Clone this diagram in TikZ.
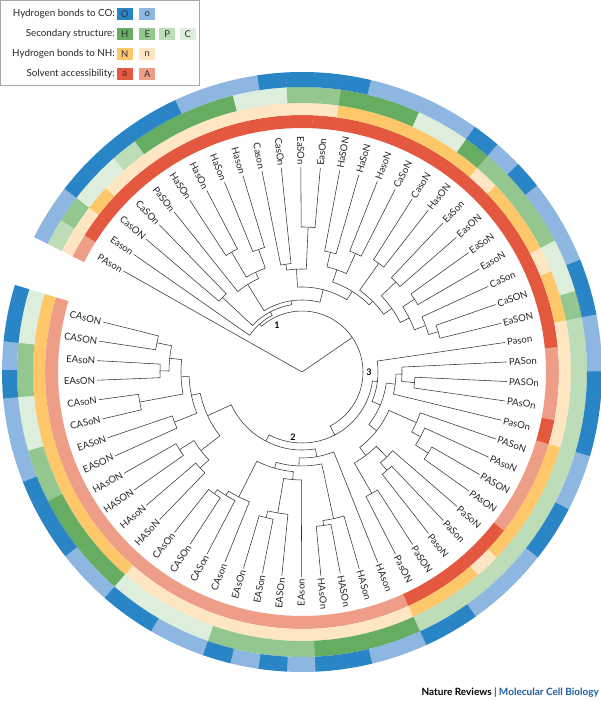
\documentclass[tikz,border=0pt]{standalone}
\usepackage{fontspec}
\setmainfont{Lato}
\definecolor{coO}{HTML}{2A85C6}
\definecolor{coo}{HTML}{8DB7E0}
\definecolor{ssH}{HTML}{66AD62}
\definecolor{ssE}{HTML}{93C78F}
\definecolor{ssP}{HTML}{BCDDB8}
\definecolor{ssC}{HTML}{DEEEDC}
\definecolor{nhN}{HTML}{FDC76A}
\definecolor{nhn}{HTML}{FEE6C2}
\definecolor{saa}{HTML}{E3583E}
\definecolor{saA}{HTML}{EE9E87}
\definecolor{journal}{HTML}{1D5E9E}
\def\leaflist{PAson,Eason,CasON,CaSOn,PaSOn,HaSOn,HasOn,HaSon,Hason,Cason,CasOn,EaSOn,EasOn,HaSON,HaSoN,HasoN,CaSoN,CasoN,HasON,EaSon,EasON,EaSoN,EasoN,CaSon,CaSON,EaSON,Pason,PASon,PASOn,PAsOn,PasOn,PASoN,PAsoN,PASON,PAsON,PaSoN,PaSon,PasoN,PaSON,PasON,HAson,HASon,HASOn,HAsOn,EAson,EASOn,EASon,EAsOn,CAson,CASon,CASOn,CAsOn,HASoN,HAsoN,HASON,HAsON,EASON,EASoN,CASoN,CAsoN,EAsON,EAsoN,CASON,CAsON}
\def\parselab#1#2#3#4#5\relax{\def\cSS{ss#1}\def\cSA{sa#2}\def\cCO{co#4}\def\cNH{nh#5}}
\newcommand\ringcell[5]{\fill[#1] (#2:#4pt) arc[start angle=#2, end angle=#3, radius=#4pt] -- (#3:#5pt) arc[start angle=#3, end angle=#2, radius=#5pt] -- cycle;}
\newcommand\TN[4]{%
  \edef\tA{\csname treeang#3\endcsname}%
  \edef\tB{\csname treeang#4\endcsname}%
  \pgfmathsetmacro\tM{(\tA+\tB)/2}%
  \expandafter\xdef\csname treeang#1\endcsname{\tM}%
  \coordinate (#1) at (\tM:#2pt);%
  \coordinate (#1a) at (\tA:#2pt);%
  \coordinate (#1b) at (\tB:#2pt);%
  \draw[tree] (#3) -- (#1a) arc[start angle=\tA, end angle=\tB, radius=#2pt] -- (#4);%
}
\begin{document}
\begin{tikzpicture}[x=1pt,y=1pt,
  tree/.style={draw=black!80, line width=0.55pt},
  lbl/.style={font=\fontsize{9.6}{11}\selectfont, inner sep=0pt, text=black!85},
  leg/.style={font=\fontsize{9.8}{12}\selectfont, inner sep=0pt, text=black!85},
  sw/.style={minimum width=16pt, minimum height=12pt, inner sep=0pt, font=\fontsize{9.5}{11}\selectfont, text=black!80},
  num/.style={font=\bfseries\fontsize{9}{10}\selectfont, inner sep=0pt}]
\useasboundingbox (0,0) rectangle (600,701);
\begin{scope}[shift={(302,329)}]
\foreach \lab [count=\i from 0] in \leaflist {
  \pgfmathsetmacro\th{150.5-\i*5.47}
  \pgfmathsetmacro\ta{\th-2.77}
  \pgfmathsetmacro\tb{\th+2.77}
  \expandafter\parselab\lab\relax
  \ringcell{\cSA}{\ta}{\tb}{244}{257}
  \ringcell{\cNH}{\ta}{\tb}{257}{269}
  \ringcell{\cSS}{\ta}{\tb}{269}{285}
  \ringcell{\cCO}{\ta}{\tb}{285}{300}
  \expandafter\xdef\csname treeangL\i\endcsname{\th}
  \coordinate (L\i) at (\th:205pt);
  \pgfmathtruncatemacro\side{cos(\th)>0 ? 1 : 0}
  \ifnum\side=1
    \node[lbl,anchor=west,rotate=\th] (N\i) at (\th:207pt) {\lab};
  \else
    \pgfmathsetmacro\rt{\th+180}
    \node[lbl,anchor=east,rotate=\rt] (N\i) at (\th:207pt) {\lab};
  \fi
}
% top group
\TN{ta1}{109}{L2}{L3}
\TN{ta2}{139}{L5}{L6}
\TN{ta3}{130}{L7}{L8}
\TN{ta4}{110}{ta2}{ta3}
\TN{ta5}{103}{L4}{ta4}
\TN{ta7}{109}{L9}{L10}
\TN{ta8}{145}{L11}{L12}
\TN{ta9}{103}{ta7}{ta8}
\TN{ta10}{123}{L13}{L14}
\TN{ta11}{130}{L15}{L16}
\TN{ta12}{108}{ta10}{ta11}
\TN{ta13}{133}{L17}{L18}
\TN{ta14}{130}{L19}{L20}
\TN{ta15}{134}{L21}{L22}
\TN{ta16}{142}{L24}{L25}
\TN{ta17}{132}{L23}{ta16}
\TN{ta18}{120}{ta15}{ta17}
\TN{ta19}{110}{ta14}{ta18}
\TN{ta20}{100}{ta13}{ta19}
\TN{ta21}{95}{ta12}{ta20}
\TN{ta6}{85}{ta9}{ta21}
\TN{ta22}{72}{ta5}{ta6}
\TN{ta23}{68}{ta1}{ta22}
\TN{ta24}{64}{L1}{ta23}
% right group
\TN{pa1}{113}{L28}{L29}
\TN{pa2}{100}{L27}{pa1}
\TN{pa3}{94}{pa2}{L30}
\TN{pa4}{150}{L33}{L34}
\TN{pa5}{135}{L32}{pa4}
\TN{pa6}{125}{L31}{pa5}
\TN{pa7}{140}{L38}{L39}
\TN{pa8}{130}{L36}{L37}
\TN{pa9}{120}{L35}{pa8}
\TN{pa10}{105}{pa9}{pa7}
\TN{pa11}{95}{pa6}{pa10}
\TN{pa12}{85}{pa3}{pa11}
\TN{pa13}{76}{L26}{pa12}
% bottom group
\TN{ba1}{155}{L42}{L43}
\TN{ba2}{150}{L41}{ba1}
\TN{ba3}{150}{L46}{L47}
\TN{ba4}{143}{L45}{ba3}
\TN{ba5}{108}{L44}{ba4}
\TN{ba6}{150}{L50}{L51}
\TN{ba7}{145}{L49}{ba6}
\TN{ba8}{140}{L48}{ba7}
\TN{ba9}{100}{ba5}{ba8}
\TN{ba10}{94}{ba2}{ba9}
\TN{ba11}{86}{L40}{ba10}
% left group
\TN{ca1}{140}{L52}{L53}
\TN{ca2}{145}{L54}{L55}
\TN{ca3}{128}{ca1}{ca2}
\TN{ca4}{137}{L56}{L57}
\TN{ca5}{165}{L58}{L59}
\TN{ca6}{142}{L60}{L61}
\TN{ca7}{148}{L62}{L63}
\TN{ca8}{133}{ca6}{ca7}
\TN{ca9}{121}{ca5}{ca8}
\TN{ca10}{113}{ca4}{ca9}
\TN{ca11}{104}{ca3}{ca10}
\TN{ba12}{78}{ba11}{ca11}
% core
\TN{ya}{71}{pa13}{ba12}
\TN{xa}{61}{ta24}{ya}
\coordinate (root) at (0,0);
\draw[tree] (L0) -- (root) -- (xa);
\node[num] (one) at (-25,47) {1};
\node[num] (three) at (67,0) {3};
\node[num] (two) at (-9,-65) {2};
\end{scope}
% legend
\draw[black!35, line width=0.6pt] (0.5,616) rectangle (199,700.5);
\node[leg,anchor=east] (lg1) at (115,687) {Hydrogen bonds to CO:};
\node[leg,anchor=east] (lg2) at (115,667) {Secondary structure:};
\node[leg,anchor=east] (lg3) at (115,647) {Hydrogen bonds to NH:};
\node[leg,anchor=east] (lg4) at (115,627) {Solvent accessibility:};
\node[sw,fill=coO] (sO) at (124.7,687) {O};
\node[sw,fill=coo] (so) at (147.3,687) {o};
\node[sw,fill=ssH] (sH) at (124.7,667) {H};
\node[sw,fill=ssE] (sE) at (147.3,667) {E};
\node[sw,fill=ssP] (sP) at (167.3,667) {P};
\node[sw,fill=ssC] (sC) at (187.7,667) {C};
\node[sw,fill=nhN] (sN) at (124.7,647) {N};
\node[sw,fill=nhn] (sn) at (147.3,647) {n};
\node[sw,fill=saa] (sa) at (124.7,627) {a};
\node[sw,fill=saA] (sA) at (147.3,627) {A};
\node[anchor=east, inner sep=0pt, font=\bfseries\fontsize{10}{11}\selectfont] (foot) at (599,8) {Nature Reviews {\mdseries|} \textcolor{journal}{Molecular Cell Biology}};
\end{tikzpicture}
\end{document}
